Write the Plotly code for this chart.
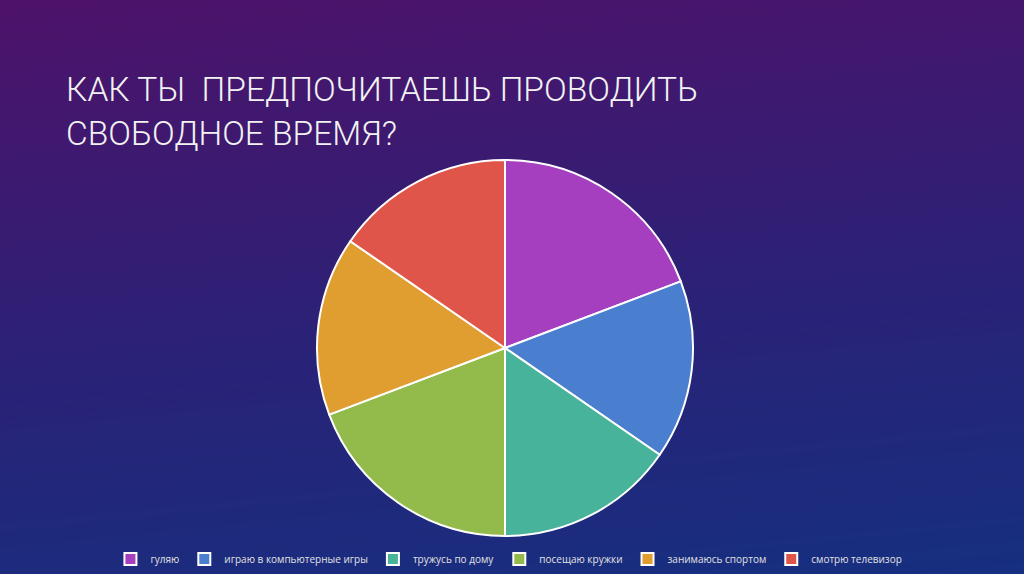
import numpy as np
import plotly.graph_objects as go

# survey answers (5:4:4:5:4:4 split)
labels = [
    "гуляю",
    "играю в компьютерные игры",
    "тружусь по дому",
    "посещаю кружки",
    "занимаюсь спортом",
    "смотрю телевизор",
]
values = [5, 4, 4, 5, 4, 4]
colors = ["#A53FC0", "#4A7ECF", "#46B39A", "#92BB4B", "#E09E31", "#E0554A"]

title = "КАК ТЫ  ПРЕДПОЧИТАЕШЬ ПРОВОДИТЬ<br>СВОБОДНОЕ ВРЕМЯ?"

W, H = 1024, 574

# slide background: purple at the top fading into dark blue at the bottom
gx = np.linspace(0, 1, 40)
gy = np.linspace(0, 1, 40)
zz = 0.85 * gy[:, None] + 0.15 * (1 - gx[None, :])

fig = go.Figure()
fig.add_heatmap(
    z=zz, x=gx, y=gy, zsmooth="best",
    colorscale=[[0, "#162F80"], [0.45, "#2A2277"], [1, "#4E126A"]],
    showscale=False, hoverinfo="skip", showlegend=False,
)
fig.add_pie(
    labels=labels, values=values, sort=False, direction="clockwise", rotation=0,
    marker=dict(colors=colors, line=dict(color="white", width=2)),
    textinfo="none", hoverinfo="label+percent",
    domain=dict(x=[317 / W, 693 / W], y=[1 - 537 / H, 1 - 159 / H]),
)

fig.add_annotation(
    text=title, xref="paper", yref="paper", x=64 / W, y=1 - 68 / H,
    xanchor="left", yanchor="top", align="left", showarrow=False,
    font=dict(family="Roboto, sans-serif", size=33.5, weight=300, color="#F2F2F2"),
)

fig.update_xaxes(visible=False, range=[0, 1], fixedrange=True)
fig.update_yaxes(visible=False, range=[0, 1], fixedrange=True)
fig.update_layout(
    width=W, height=H,
    margin=dict(l=0, r=0, t=0, b=0),
    paper_bgcolor="#2A2277", plot_bgcolor="#2A2277",
    legend=dict(
        orientation="h", x=0.497, xanchor="center", y=1 - 559 / H, yanchor="middle",
        font=dict(family="Open Sans, sans-serif", size=10, color="#E2E2E2"),
        bgcolor="rgba(0,0,0,0)", itemclick=False,
    ),
)

# page body has a default 8px margin; drop it so the slide fills the window
fig.write_html("out.html", config={"displayModeBar": False},
               post_script="document.body.style.margin='0';")
